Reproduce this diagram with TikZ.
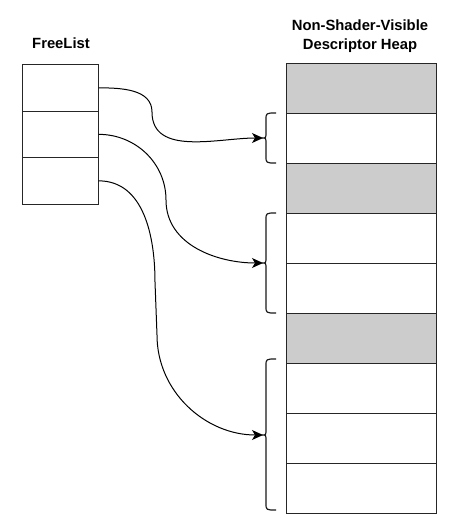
\documentclass[tikz,border=0pt]{standalone}
\usepackage{fontspec}
\setmainfont{Liberation Sans}
\usetikzlibrary{arrows.meta}
\newcommand\drawbracepath[3]{%
  \draw[bracestyle] (276,#1) .. controls (266,#1) .. (266,#1+7) -- (266,#2-6)
    .. controls (266,#2) .. (262,#2) .. controls (266,#2) .. (266,#2+6)
    -- (266,#3-7) .. controls (266,#3) .. (276,#3);}
\tikzset{
  cell/.style={draw=black!85, line width=1.2pt, inner sep=0pt, minimum width=150pt, minimum height=50pt, anchor=north west, fill=white},
  graycell/.style={cell, fill=black!20},
  flcell/.style={draw=black!85, line width=1.2pt, inner sep=0pt, minimum width=76pt, minimum height=46.5pt, anchor=north west, fill=white},
  conn/.style={line width=1pt, -{Stealth[length=11pt,width=10pt,inset=3pt]}},
  bracestyle/.style={line width=1.2pt, draw=black!90},
  title/.style={font=\bfseries\fontsize{14.8}{19}\selectfont, align=center, inner sep=0pt}
}
\begin{document}
\begin{tikzpicture}[x=1pt,y=-1pt]
\useasboundingbox (0,0) rectangle (471,525);
% titles
\node[title] (tfl) at (61,43) {FreeList};
\node[title] (theap) at (360,36) {Non-Shader-Visible\\Descriptor Heap};
% free list
\node[flcell] (f0) at (21.5,64) {};
\node[flcell] (f1) at (21.5,110.5) {};
\node[flcell] (f2) at (21.5,157) {};
% heap
\node[graycell] (h0) at (286,63) {};
\node[cell] (h1) at (286,113) {};
\node[graycell] (h2) at (286,163) {};
\node[cell] (h3) at (286,213) {};
\node[cell] (h4) at (286,263) {};
\node[graycell] (h5) at (286,313) {};
\node[cell] (h6) at (286,363) {};
\node[cell] (h7) at (286,413) {};
\node[cell] (h8) at (286,463) {};
% braces
\drawbracepath{113}{138}{163}
\drawbracepath{213}{263}{313}
\drawbracepath{359}{435}{510}
\coordinate (b1) at (263,138);
\coordinate (b2) at (263,263);
\coordinate (b3) at (263,435);
% waypoints
\coordinate (w1) at (152,112);
\coordinate (w2) at (166,200);
\coordinate (w3a) at (155,282);
\coordinate (w3b) at (157,335);
% connectors
\draw[conn] (f0.east) to[out=0,in=90] (w1) to[out=-90,in=180] (b1);
\draw[conn] (f1.east) to[out=0,in=90] (w2) to[out=-90,in=180] (b2);
\draw[conn] (f2.east) to[out=0,in=90] (w3a) -- (w3b) to[out=-90,in=180] (b3);
\end{tikzpicture}
\end{document}
